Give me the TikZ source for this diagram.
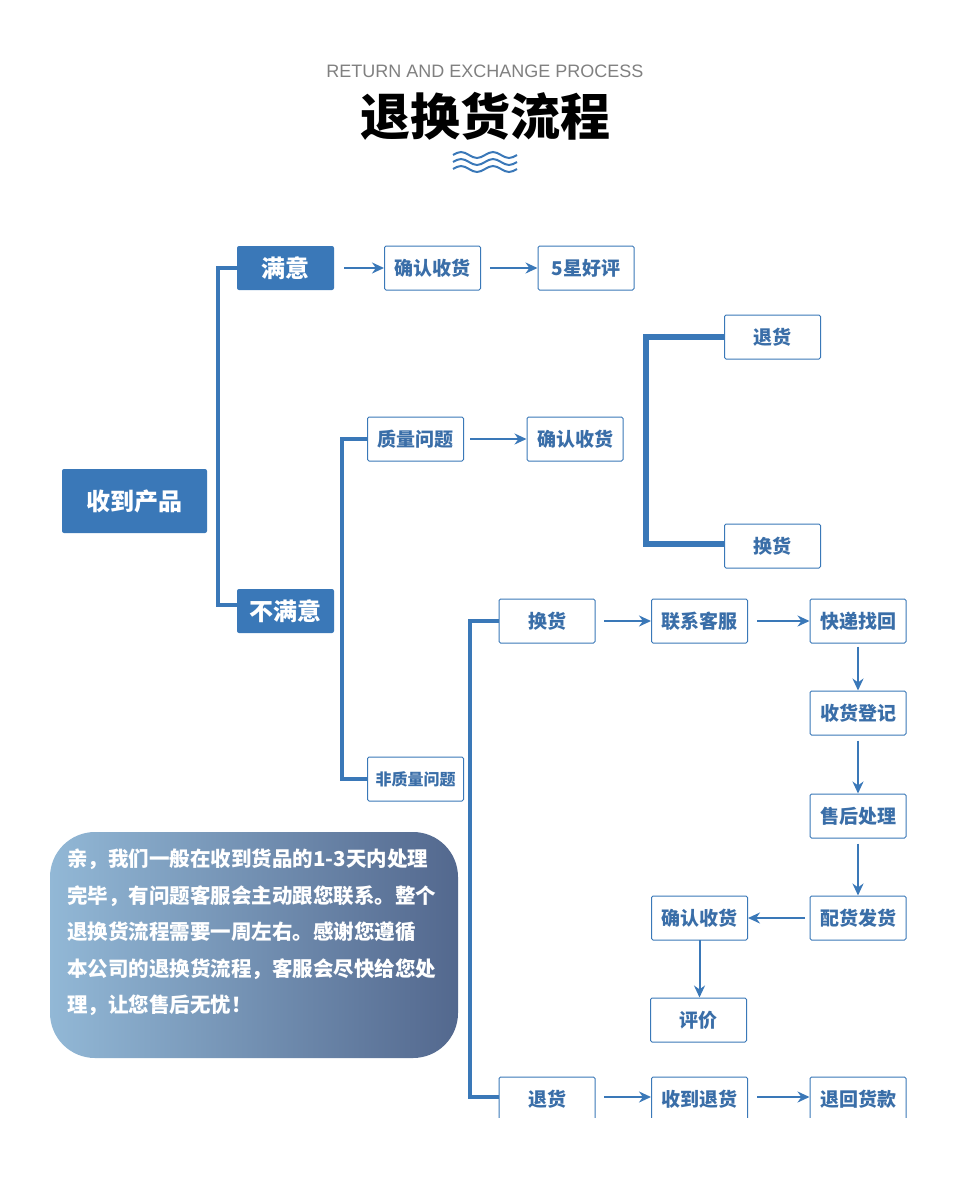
\documentclass[tikz,border=0pt]{standalone}
\usepackage{fontspec}
\setmainfont{Liberation Sans}
\newfontfamily\cjk{Noto Sans CJK SC}
\usetikzlibrary{arrows.meta, positioning}
\definecolor{mainblue}{HTML}{3A78B8}
\definecolor{txtblue}{HTML}{3A6EA8}
\definecolor{lightgrad}{HTML}{92B8D6}
\definecolor{darkgrad}{HTML}{53688E}
\tikzset{
  solid box/.style={rectangle, rounded corners=2pt, fill=mainblue, text=white,
    minimum width=97pt, minimum height=44pt, font=\cjk\bfseries\fontsize{24}{24}\selectfont},
  step box/.style={rectangle, rounded corners=1.5pt, draw=mainblue, line width=1pt, fill=white,
    text=txtblue, minimum width=96pt, minimum height=44pt, inner sep=1pt,
    font=\cjk\bfseries\fontsize{19}{19}\selectfont},
  flow/.style={mainblue, line width=2pt, -{Stealth[length=12pt,width=11pt]}},
  branch/.style={mainblue, line width=4pt}
}
\begin{document}
\begin{tikzpicture}[x=1pt, y=-1pt]
  \useasboundingbox (0,0) rectangle (970,1194);
  % heading
  \node (sub) at (485,71) {\color{gray}\fontsize{18}{18}\selectfont RETURN AND EXCHANGE PROCESS};
  \node (title) at (485,116) {\cjk\bfseries\fontsize{50}{50}\selectfont 退换货流程};
  \foreach \yy in {155,162,169}
    \draw[mainblue, line width=2pt] (453,\yy) sin (461,\yy-3) cos (469,\yy) sin (477,\yy+3) cos (485,\yy)
      sin (493,\yy-3) cos (501,\yy) sin (509,\yy+3) cos (517,\yy);

  % first level
  \node[solid box, minimum width=145pt, minimum height=64pt] (product) at (134.5,501) {收到产品};
  \node[solid box] (ok) at (285.5,268) {满意};
  \node[solid box] (notok) at (285.5,611) {不满意};
  \draw[branch] (ok.west) -- (218,268) -- (218,605) -- (notok.west |- 0,605);

  % satisfied
  \node[step box] (confirm1) at (432.5,268) {确认收货};
  \node[step box] (star) at (586,268) {5星好评};
  \draw[flow] (344,268) -- (confirm1.west);
  \draw[flow] (490,268) -- (star.west);

  % not satisfied
  \node[step box] (quality) at (415.5,439) {质量问题};
  \node[step box, font=\cjk\bfseries\fontsize{16}{16}\selectfont] (nonquality) at (415.5,779) {非质量问题};
  \draw[branch] (quality.west) -- (342,439) -- (342,779) -- (nonquality.west);

  % quality problem
  \node[step box] (confirm2) at (575,439) {确认收货};
  \draw[flow] (470,439) -- (confirm2.west);
  \node[step box] (refundA) at (772.5,337) {退货};
  \node[step box] (swapA) at (772.5,546) {换货};
  \draw[mainblue, line width=6pt] (refundA.west) -- (646,337) -- (646,544) -- (swapA.west |- 0,544);

  % non-quality problem
  \node[step box] (swapB) at (547,621) {换货};
  \node[step box] (service) at (699.5,621) {联系客服};
  \node[step box] (fetch) at (858,621) {快递找回};
  \node[step box] (register) at (858,713) {收货登记};
  \node[step box] (after) at (858,816) {售后处理};
  \node[step box] (ship) at (858,918) {配货发货};
  \node[step box] (confirm3) at (699.5,918) {确认收货};
  \node[step box] (rate) at (698.5,1020) {评价};
  \draw[flow] (604,621) -- (service.west);
  \draw[flow] (757,621) -- (fetch.west);
  \draw[flow] (fetch.south) ++(0,3) -- (register.north);
  \draw[flow] (register.south) ++(0,5) -- (after.north);
  \draw[flow] (after.south) ++(0,5) -- (ship.north);
  \draw[flow] (ship.west) ++(-5,0) -- (confirm3.east);
  \draw[flow] (699.5,940) -- (rate.north -| 699.5,0);

  \begin{scope}
    \clip (0,0) rectangle (970,1117);
    \node[step box] (refundB) at (547,1099) {退货};
    \node[step box] (backB) at (699.5,1099) {收到退货};
    \node[step box] (money) at (858,1099) {退回货款};
  \end{scope}
  \draw[flow] (604,1097) -- (backB.west |- 0,1097);
  \draw[flow] (757,1097) -- (money.west |- 0,1097);
  \draw[branch] (swapB.west) -- (470,621) -- (470,1097) -- (refundB.west |- 0,1097);

  % note
  \shade[left color=lightgrad, right color=darkgrad, rounded corners=45pt] (50,832) rectangle (458,1058);
  \node[anchor=north west, text=white, align=left, inner sep=0pt,
    font=\cjk\bfseries\fontsize{20.5}{36.5}\selectfont] (note) at (67,849)
    {亲，我们一般在收到货品的1-3天内处理\\完毕，有问题客服会主动跟您联系。整个\\退换货流程需要一周左右。感谢您遵循\\本公司的退换货流程，客服会尽快给您处\\理，让您售后无忧！};
\end{tikzpicture}
\end{document}
